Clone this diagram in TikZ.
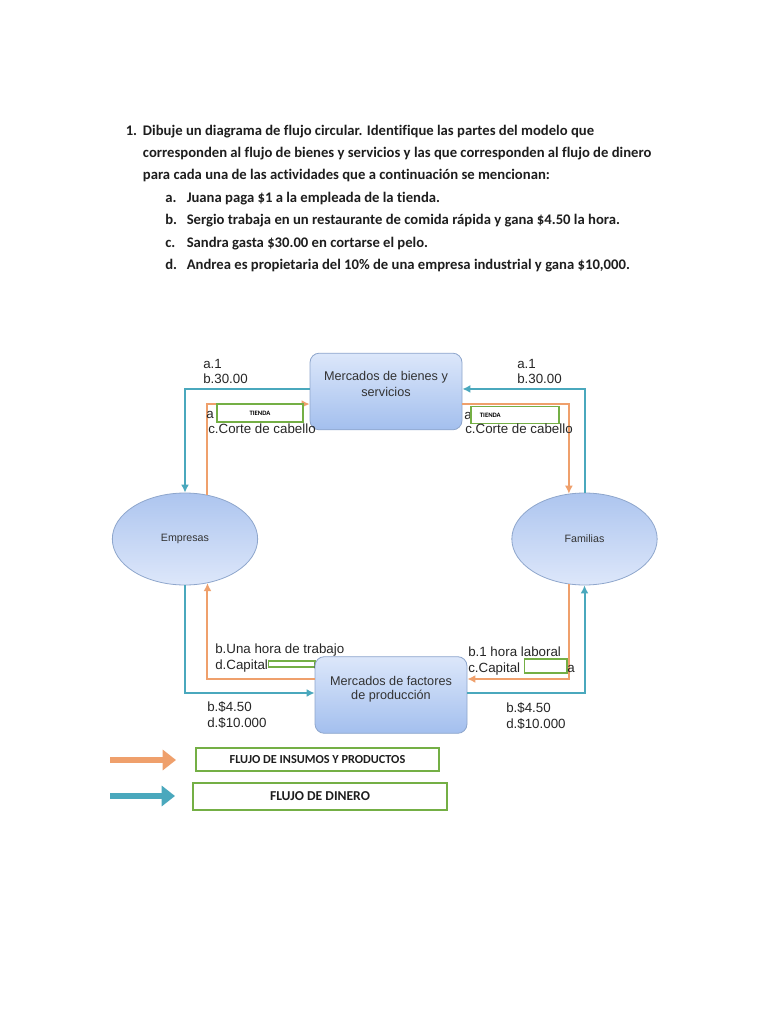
\documentclass[tikz,border=0pt]{standalone}
\usepackage{fontspec}
\setmainfont{Liberation Sans}
\newfontfamily\calib[Ligatures=CommonOff]{Carlito}
\usetikzlibrary{arrows.meta,shapes.geometric}
\definecolor{tealc}{HTML}{4AA8BD}
\definecolor{orangec}{HTML}{EFA06C}
\definecolor{greenc}{HTML}{74AF45}
\definecolor{boxtop}{HTML}{DCE7FA}
\definecolor{boxbot}{HTML}{A3BFEE}
\definecolor{boxline}{HTML}{8EA6CC}
\definecolor{elltop}{HTML}{ADC5EF}
\definecolor{ellbot}{HTML}{DDE7FA}
\definecolor{txtc}{HTML}{1E1E1E}
\newcommand{\liftedlines}[3]{\raisebox{#1}[0pt][0pt]{\def\arraystretch{#2}\begin{tabular}{@{}c@{}}#3\end{tabular}}}
\begin{document}
\begin{tikzpicture}[x=0.75pt,y=-0.75pt,
 qtext/.style={anchor=base west,inner sep=0,text=txtc,font=\calib\bfseries\fontsize{11}{13}\selectfont},
 lbl/.style={anchor=base west,inner sep=0,text=black!85,font=\fontsize{10}{12}\selectfont},
 market/.style={draw=boxline,line width=0.6pt,rounded corners=7pt,top color=boxtop,bottom color=boxbot,minimum width=114pt,minimum height=57.5pt,inner sep=0,text=black!80,font=\fontsize{9.5}{12}\selectfont},
 agent/.style={ellipse,draw=boxline,line width=0.6pt,top color=elltop,bottom color=ellbot,minimum width=109pt,minimum height=69pt,inner sep=0,text=black!80,font=\fontsize{8}{10}\selectfont},
 money/.style={draw=tealc,line width=1.5pt,-{Latex[length=6pt,width=6pt]}},
 goods/.style={draw=orangec,line width=1.5pt,-{Latex[length=6pt,width=6pt]}},
 tag/.style={draw=greenc,line width=1pt,inner sep=0,fill=white},
 tagtext/.style={inner sep=0,font=\calib\bfseries\fontsize{5}{6}\selectfont},
 legarrow/.style={line width=4pt,-{Triangle[length=10pt,width=15pt]}},
 legbox/.style={draw=greenc,line width=1.2pt,inner sep=0,text=txtc}
]
\fill[white] (0,0) rectangle (768,1024);
\useasboundingbox (0,0) rectangle (768,1024);

% question text
\node[qtext] (q0) at (125.5,135) {1.};
\node[qtext] (q1) at (142.7,135) {Dibuje un diagrama de flujo circular. Identifique las partes del modelo que};
\node[qtext] (q2) at (142.7,157.4) {corresponden al flujo de bienes y servicios y las que corresponden al flujo de dinero};
\node[qtext] (q3) at (142.7,179.8) {para cada una de las actividades que a continuación se mencionan:};
\node[qtext] (ia) at (165,202.2) {a.};
\node[qtext] (ta) at (186.5,202.2) {Juana paga \$1 a la empleada de la tienda.};
\node[qtext] (ib) at (165,224.6) {b.};
\node[qtext] (tb) at (186.5,224.6) {Sergio trabaja en un restaurante de comida rápida y gana \$4.50 la hora.};
\node[qtext] (ic) at (165,247) {c.};
\node[qtext] (tc) at (186.5,247) {Sandra gasta \$30.00 en cortarse el pelo.};
\node[qtext] (id) at (165,269.4) {d.};
\node[qtext] (td) at (186.5,269.4) {Andrea es propietaria del 10\% de una empresa industrial y gana \$10,000.};

% tag and label partly hidden behind the factor market box
\node[tag,minimum width=35pt,minimum height=4.5pt] (tg3) at (291.5,664) {};
\node[lbl] (blA) at (313.5,669) {a};

% shapes
\node[market] (mb) at (386,391.5) {\liftedlines{2.6pt}{1.0}{Mercados de bienes y\\servicios}};
\node[market] (mf) at (391,695) {\liftedlines{1.8pt}{0.88}{Mercados de factores\\de producción}};
\node[agent] (emp) at (185,539) {Empresas};
\node[agent] (fam) at (584.5,539) {Familias};

% money flows
\draw[money] ([yshift=1.9pt]mb.west) -| (emp.north);
\draw[money] (fam.north) |- ([yshift=1.9pt]mb.east);
\draw[money] (emp.south) |- ([yshift=1.5pt]mf.west);
\draw[money] ([yshift=1.5pt]mf.east) -| (fam.south);

% goods flows
\draw[goods] (emp.63) |- ([yshift=-9.4pt]mb.west);
\draw[goods] ([yshift=-9.4pt]mb.east) -| (fam.109);
\draw[goods] (fam.-109) |- ([yshift=12pt]mf.east);
\draw[goods] ([yshift=12pt]mf.west) -| (emp.-63);

% top-left labels
\node[lbl] (tl1) at (203,368) {a.1};
\node[lbl] (tl2) at (203,383) {b.30.00};
\node[lbl] (tl3) at (206,418) {a};
\node[tag,minimum width=64.5pt,minimum height=13.5pt] (tg1) at (260,413) {};
\node[tagtext] (tg1t) at (tg1) {TIENDA};
\node[lbl] (tl4) at (208,433) {c.Corte de cabello};

% top-right labels
\node[lbl] (tr1) at (517,368) {a.1};
\node[lbl] (tr2) at (517,383) {b.30.00};
\node[lbl] (tr3) at (464,419) {a};
\node[tag,minimum width=66pt,minimum height=12.5pt] (tg2) at (515,415) {};
\node[tagtext,anchor=west] (tg2t) at ([xshift=7pt]tg2.west) {TIENDA};
\node[lbl] (tr4) at (465,433) {c.Corte de cabello};

% bottom-left labels
\node[lbl] (bl1) at (215,653) {b.Una hora de trabajo};
\node[lbl] (bl2) at (215,669) {d.Capital};
\node[lbl] (bl3) at (207,711) {b.\$4.50};
\node[lbl] (bl4) at (207,727) {d.\$10.000};

% bottom-right labels
\node[lbl] (br1) at (468,656) {b.1 hora laboral};
\node[lbl] (br2) at (468,672) {c.Capital};
\node[tag,minimum width=32pt,minimum height=10.5pt] (tg4) at (545.5,666) {};
\node[lbl] (br3) at (567,672) {a};
\node[lbl] (br4) at (506,712) {b.\$4.50};
\node[lbl] (br5) at (506,728) {d.\$10.000};

% legend
\coordinate (la1s) at (110,760);
\coordinate (la1e) at (176,760);
\coordinate (la2s) at (110,796);
\coordinate (la2e) at (175,796);
\draw[legarrow,orangec] (la1s) -- (la1e);
\draw[legarrow,tealc] (la2s) -- (la2e);
\node[legbox,minimum width=182.25pt,minimum height=17.25pt,font=\calib\bfseries\fontsize{9.2}{11}\selectfont] (lg1) at (317.5,759.5) {FLUJO DE INSUMOS Y PRODUCTOS};
\node[legbox,minimum width=190.5pt,minimum height=20.25pt,font=\calib\bfseries\fontsize{10.2}{12}\selectfont] (lg2) at (320,796.5) {FLUJO DE DINERO};
\end{tikzpicture}
\end{document}
